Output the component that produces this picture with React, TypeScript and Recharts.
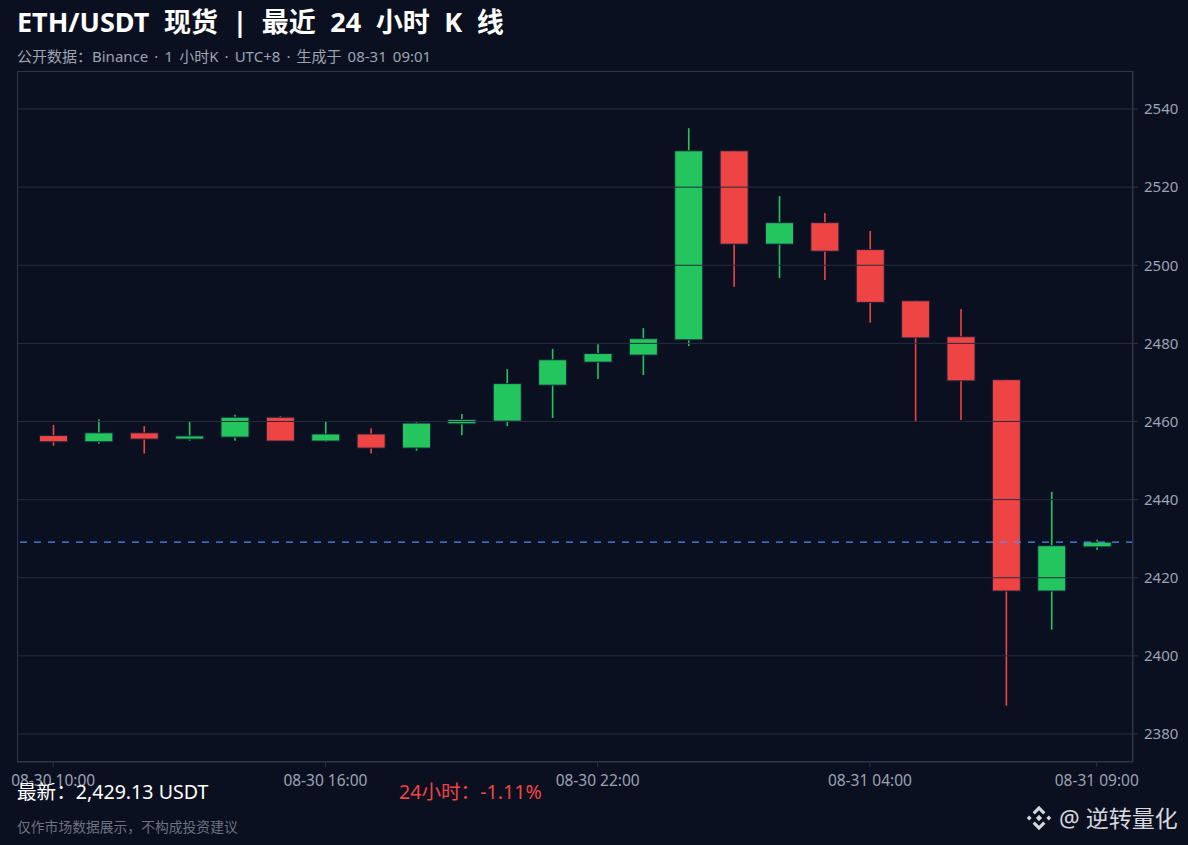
import * as React from "react"
import { Bar, ComposedChart, XAxis, YAxis, ReferenceLine } from "recharts"

// 1h candles, 08-30 10:00 -> 08-31 09:00 (UTC+8)
const times = [
    "08-30 10:00", "08-30 11:00", "08-30 12:00", "08-30 13:00", "08-30 14:00", "08-30 15:00",
    "08-30 16:00", "08-30 17:00", "08-30 18:00", "08-30 19:00", "08-30 20:00", "08-30 21:00",
    "08-30 22:00", "08-30 23:00", "08-31 00:00", "08-31 01:00", "08-31 02:00", "08-31 03:00",
    "08-31 04:00", "08-31 05:00", "08-31 06:00", "08-31 07:00", "08-31 08:00", "08-31 09:00",
]
const opens = [
    2456.4, 2454.8, 2457.1, 2455.5, 2456.0, 2461.1, 2455.0, 2456.8, 2453.2, 2459.4, 2460.1, 2469.3,
    2475.2, 2477.0, 2480.9, 2529.3, 2505.4, 2510.9, 2504.0, 2490.9, 2481.7, 2470.7, 2416.6, 2427.9,
]
const highs = [
    2459.1, 2460.6, 2458.8, 2460.1, 2461.7, 2461.4, 2459.9, 2458.3, 2459.9, 2461.9, 2473.4, 2478.6,
    2479.8, 2483.9, 2535.1, 2529.4, 2517.7, 2513.4, 2508.8, 2491.0, 2488.8, 2470.8, 2442.0, 2429.7,
]
const lows = [
    2453.8, 2454.3, 2451.8, 2455.1, 2455.1, 2455.0, 2454.8, 2451.8, 2452.5, 2456.5, 2458.8, 2460.9,
    2470.9, 2471.9, 2479.3, 2494.5, 2496.7, 2496.2, 2485.3, 2460.1, 2460.4, 2387.2, 2406.7, 2427.1,
]
const closes = [
    2454.8, 2457.1, 2455.5, 2456.3, 2461.1, 2455.0, 2456.8, 2453.2, 2459.6, 2460.5, 2469.7, 2475.8,
    2477.4, 2481.2, 2529.3, 2505.4, 2510.9, 2503.6, 2490.5, 2481.4, 2470.4, 2416.6, 2428.2, 2429.13,
]

const xTickLabels = ["08-30 10:00", "08-30 16:00", "08-30 22:00", "08-31 04:00", "08-31 09:00"]
const yTicks = [2380, 2400, 2420, 2440, 2460, 2480, 2500, 2520, 2540]
const yDomain = [2372.83, 2549.73]

const lastPrice = closes[closes.length - 1]
const change24h = (lastPrice / opens[0] - 1) * 100

const BG = "#0b1020"
const GRID = "#262c3e"
const FRAME = "#2e3549"
const AXIS_TEXT = "#9ba3b4"
const UP = "#22c55e"
const DOWN = "#ef4444"
const FONT = "'Noto Sans', 'Noto Sans CJK SC', sans-serif"

const data = times.map((t, i) => ({
    time: t,
    open: opens[i],
    high: highs[i],
    low: lows[i],
    close: closes[i],
    range: [lows[i], highs[i]],
}))

// draws wick + body inside the [low, high] bar the library positions
function Candle(props: any) {
    const { x, y, width, height, payload } = props
    if (!payload || width == null) return null
    const top = Math.min(y, y + height)
    const h = Math.abs(height)
    const ratio = h / (payload.high - payload.low)
    const up = payload.close >= payload.open
    const color = up ? UP : DOWN
    const bodyTop = top + (payload.high - Math.max(payload.open, payload.close)) * ratio
    const bodyBottom = top + (payload.high - Math.min(payload.open, payload.close)) * ratio
    const cx = x + width / 2
    return (
        <g>
            <line x1={cx} x2={cx} y1={top} y2={top + h} stroke={color} strokeWidth={1.6} />
            <rect
                x={x}
                y={bodyTop}
                width={width}
                height={Math.max(bodyBottom - bodyTop, 1)}
                fill={color}
                stroke="#17203a"
                strokeWidth={1}
            />
        </g>
    )
}

function XTick(props: any) {
    const { x, y, payload } = props
    if (!xTickLabels.includes(payload.value)) return null
    return (
        <g>
            <line x1={x} x2={x} y1={y - 13} y2={y - 8} stroke={FRAME} />
            <text x={x} y={y} dy="0.71em" textAnchor="middle" fill={AXIS_TEXT} fontSize={15.5} fontFamily={FONT}>
                {payload.value}
            </text>
        </g>
    )
}

function BinanceIcon() {
    return (
        <svg width={28} height={28} viewBox="0 0 24 24" style={{ position: "absolute", left: 1025, top: 804 }}>
            <g fill="#d4d7de">
                <polygon points="12,1.5 17.5,7 15.6,8.9 12,5.3 8.4,8.9 6.5,7" />
                <polygon points="12,22.5 17.5,17 15.6,15.1 12,18.7 8.4,15.1 6.5,17" />
                <polygon points="1.5,12 3.6,9.9 5.7,12 3.6,14.1" />
                <polygon points="22.5,12 20.4,9.9 18.3,12 20.4,14.1" />
                <polygon points="12,9.3 14.7,12 12,14.7 9.3,12" />
            </g>
        </svg>
    )
}

export default function App() {
    return (
        <div
            style={{
                position: "absolute",
                left: 0,
                top: 0,
                width: 1188,
                height: 845,
                background: BG,
                overflow: "hidden",
                fontFamily: FONT,
            }}
        >
            <div style={{ position: "absolute", left: 17, top: 4, fontSize: 27, lineHeight: "36px", fontWeight: 700, wordSpacing: 7.5, color: "#ffffff", whiteSpace: "nowrap" }}>
                ETH/USDT 现货 | 最近 24 小时 K 线
            </div>
            <div style={{ position: "absolute", left: 17, top: 46, fontSize: 15, lineHeight: "20px", wordSpacing: 2.2, color: AXIS_TEXT, whiteSpace: "nowrap" }}>
                公开数据：Binance · 1 小时K · UTC+8 · 生成于 08-31 09:01
            </div>

            <div style={{ position: "absolute", left: 0, top: 0 }}>
                <ComposedChart width={1188} height={845} data={data} margin={{ top: 71, right: 0, left: 17, bottom: 0 }}>
                    <XAxis
                        dataKey="time"
                        height={83}
                        interval={0}
                        tickLine={false}
                        axisLine={{ stroke: FRAME }}
                        tickSize={5}
                        tickMargin={8}
                        padding={{ left: 13.5, right: 13.5 }}
                        tick={<XTick />}
                    />
                    <YAxis
                        orientation="right"
                        width={55}
                        domain={yDomain}
                        ticks={yTicks}
                        allowDataOverflow
                        axisLine={{ stroke: FRAME }}
                        tickLine={{ stroke: FRAME }}
                        tickSize={5}
                        tickMargin={6}
                        tick={{ fill: AXIS_TEXT, fontSize: 15, fontFamily: FONT }}
                    />
                    <Bar dataKey="range" barSize={28} shape={<Candle />} isAnimationActive={false} />
                    {yTicks.map(v => (
                        <ReferenceLine key={v} y={v} stroke={GRID} strokeWidth={1} />
                    ))}
                    <ReferenceLine y={lastPrice} stroke="#4b8ff5" strokeWidth={1.2} strokeDasharray="7 7" />
                </ComposedChart>
            </div>

            <div
                style={{
                    position: "absolute",
                    left: 17,
                    top: 71,
                    width: 1116,
                    height: 691,
                    border: `1px solid ${FRAME}`,
                    boxSizing: "border-box",
                    pointerEvents: "none",
                }}
            />

            <div style={{ position: "absolute", left: 17, top: 779, fontSize: 19.6, lineHeight: "26px", color: "#ffffff", whiteSpace: "nowrap" }}>
                最新：{lastPrice.toLocaleString("en-US", { minimumFractionDigits: 2 })} USDT
            </div>
            <div style={{ position: "absolute", left: 399, top: 779, fontSize: 19.6, lineHeight: "26px", color: DOWN, whiteSpace: "nowrap" }}>
                24小时：{change24h.toFixed(2)}%
            </div>
            <div style={{ position: "absolute", left: 17, top: 817, fontSize: 13.8, lineHeight: "20px", color: "#6b7280", whiteSpace: "nowrap" }}>
                仅作市场数据展示，不构成投资建议
            </div>

            <BinanceIcon />
            <div style={{ position: "absolute", left: 1059, top: 802, fontSize: 23, lineHeight: "32px", color: "#d4d7de", whiteSpace: "nowrap" }}>
                @ 逆转量化
            </div>
        </div>
    )
}
